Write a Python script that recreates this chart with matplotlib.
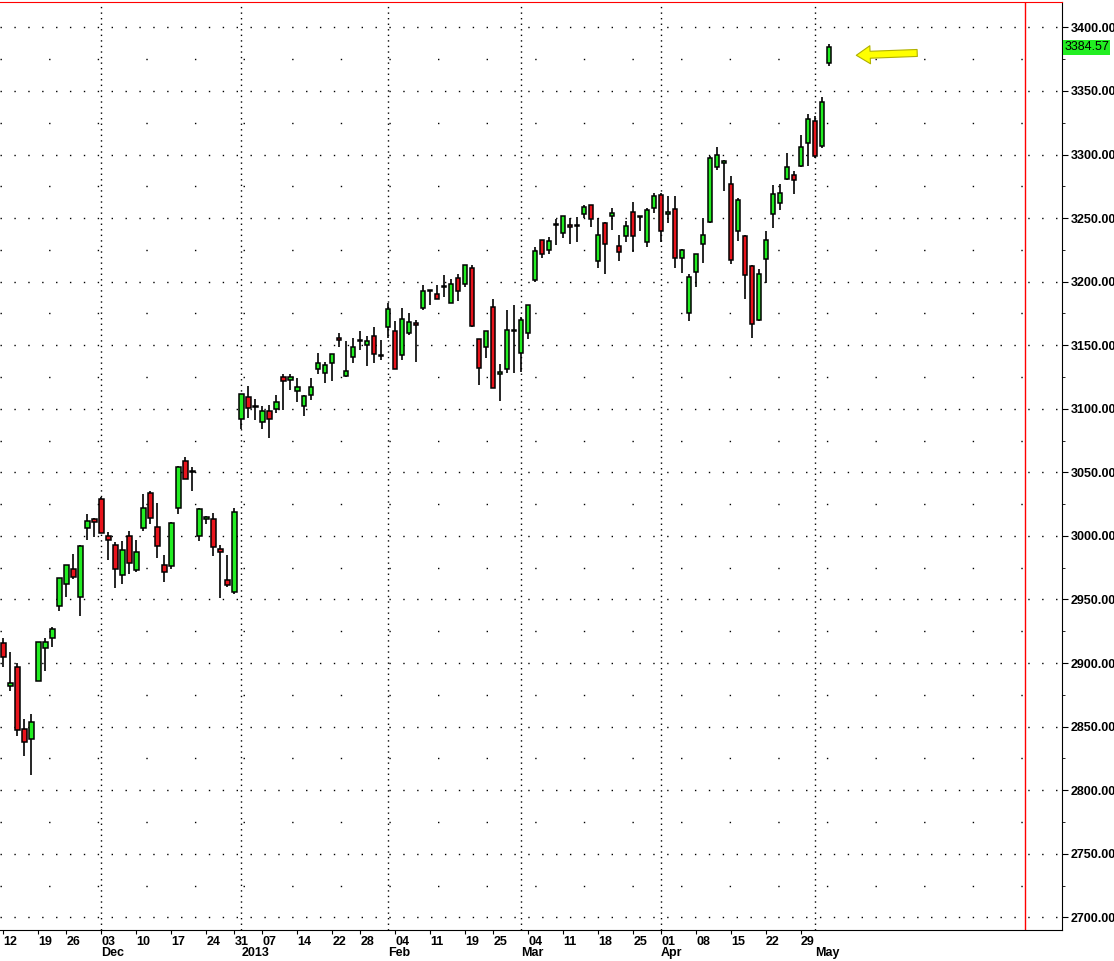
import matplotlib
matplotlib.use("Agg")
import matplotlib.pyplot as plt
from matplotlib.ticker import MultipleLocator

plt.rcParams['font.family'] = ['Liberation Sans', 'DejaVu Sans']

opens = [2916,2882,2897,2848,2840,2886,2912,2920,2945,2962,2974,2952,3006,3013,3029,3000,2993,2969,3000,2973,
         3006,3034,3007,2977,2976,3022,3059,3050.5,3000,3013.7,3013,2990,2965,2956,3092,3109,3101.6,3090,3098,3100,
         3125,3123,3114,3102,3111,3131,3128,3136,3156,3126,3141,3153,3150,3157,3141.6,3164,3161,3142,3160,3167.5,
         3179,3192.6,3190,3195.7,3183,3203,3198,3211,3155,3149,3180,3127,3131,3161.2,3144,3160,3201,3233,3225,3244.6,
         3238,3244.4,3243.8,3253,3260,3216,3246,3252,3228,3236,3255,3251,3231,3258,3268,3253,3257,3219,3175,3208,
         3230,3247,3290,3293,3277,3240,3236,3212,3170,3218,3253,3262,3281,3284,3291,3309,3326,3307,3372]
highs = [2920,2909,2900,2856,2860,2916.4,2920,2928,2967,2977,2986,2993,3017,3014,3031,3003,2995,2996,3004,2997,
         3033,3035,3026,2985,3011,3055,3062,3054,3022,3016,3018,2993,2985,3022,3112,3118,3108,3102,3103,3111,
         3127,3127,3124,3111,3124,3144,3137,3143,3160,3153,3156,3161,3157,3164,3154,3183,3169,3179,3175,3170,
         3197,3193.4,3197,3205,3202,3206,3213,3213,3155,3161,3186,3135,3178,3182,3172,3182,3227,3233,3235,3249,
         3252,3250,3251,3260,3260,3250,3247,3258,3237,3248,3263,3252,3258,3270,3270,3267,3267,3226,3206,3222,
         3250,3299,3306,3296,3283,3266,3237,3213,3210,3240,3276,3277,3301,3287,3315,3332,3330,3345,3387]
lows = [2897,2878,2843,2827,2812,2886,2894,2913,2941,2952,2966,2937,2997,2999,3002,2981,2959,2962,2970,2972,
        3004,3009,2983,2964,2974,3017,3045,3035,2996,3009,2984,2951,2960,2954,3084,3093,3091,3084,3077,3097,
        3099,3115,3105,3094,3107,3127,3120,3122,3149,3125,3136,3146,3134,3136,3138,3156,3131,3138,3158,3137,
        3178,3182,3186,3188,3183,3185,3196,3164,3119,3140,3117,3106,3128,3128,3129,3155,3200,3219,3222,3229,
        3234,3230,3231,3250,3243,3211,3206,3241,3216,3231,3223,3240,3227,3254,3231,3246,3211,3207,3169,3196,
        3215,3246,3288,3271,3214,3232,3186,3156,3169,3199,3242,3256,3280,3269,3290,3291,3297,3305,3370]
closes = [2905,2884,2847,2838,2854,2916.4,2916.4,2927,2967,2977,2968,2992,3012,3011,3002,2997,2974,2989,2979,2987,
          3022,3014,2992,2972,3010.5,3054.5,3045,3050.5,3021,3013.7,2991,2987,2961,3019,3112,3101,3101.6,3098,3092,3105.5,
          3122,3125,3117,3110,3117,3136,3134.5,3143,3154,3130,3149,3154,3153,3143,3141.6,3178.5,3131,3171,3168,3166,
          3193,3192.6,3186,3196.5,3198,3193,3213,3165,3132,3161,3116.5,3129,3162,3161.2,3170,3182,3224,3222,3232,3244.6,
          3252,3243,3243.8,3258.5,3249,3237,3230,3254,3223,3244,3236,3252,3256,3267,3240,3255,3219,3225,3203.5,3222,
          3237,3297,3300,3295,3217,3264,3205,3167,3206,3233,3269,3270,3290,3280,3306,3328,3299,3341,3384.57]

tick_idx = [0,5,9,14,19,24,29,33,37,42,47,51,56,61,66,70,75,80,85,90,94,99,104,109,114]
tick_lbl = ["12","19","26","03","10","17","24","31","07","14","22","28","04","11","19","25",
            "04","11","18","25","01","08","15","22","29"]
month_idx = [14,34,55,74,94,116]
month_lbl = ["Dec","2013","Feb","Mar","Apr","May"]

W, H = 1114, 961
fig = plt.figure(figsize=(W/100, H/100), dpi=100)
ax = fig.add_axes([0, 31/H, 1062/W, 1 - 33/H])
ax.set_xlim(-0.5, 151.3)
ax.set_ylim(2690, 3420)

for i, (o, hh, ll, cc) in enumerate(zip(opens, highs, lows, closes)):
    col = "#22ee22" if cc >= o else "#e8141c"
    ax.vlines(i, ll, hh, color="black", lw=1.2, zorder=2)
    bot, top = min(o, cc), max(o, cc)
    ax.bar(i, max(top - bot, 0.8), bottom=bot, width=0.62, color=col,
           edgecolor="black", linewidth=1.1, zorder=3)

ax.yaxis.tick_right()
ax.yaxis.set_major_locator(MultipleLocator(50))
ax.yaxis.set_minor_locator(MultipleLocator(25))
ax.yaxis.set_major_formatter(plt.FuncFormatter(lambda v, p: f"{v:.2f}"))
ax.tick_params(axis="y", which="major", length=4, labelsize=9, pad=2)
ax.tick_params(axis="y", which="minor", length=2)
for t in ax.get_yticklabels():
    t.set_fontweight("bold")
ax.grid(axis="y", which="major", color="black", linestyle=(0, (1, 9)), lw=1)
ax.grid(axis="y", which="minor", color="black", linestyle=(0, (1, 34)), lw=1)
for m in month_idx:
    ax.axvline(m, color="black", linestyle=(0, (1, 3)), lw=1, zorder=1)
ax.axvline(146, color="red", lw=1)

ax.set_xticks(tick_idx)
ax.set_xticklabels(tick_lbl, fontsize=9, fontweight="bold", ha="left")
ax.tick_params(axis="x", length=3, pad=1)
for m, lab in zip(month_idx, month_lbl):
    ax.annotate(lab, xy=(m, 0), xycoords=ax.get_xaxis_transform(),
                xytext=(0, -17), textcoords="offset pixels", fontsize=9,
                fontweight="bold", ha="left", va="top")

ax.spines["top"].set_color("red")
ax.spines["left"].set_visible(False)

ax.text(1.002, closes[-1], f"{closes[-1]:.2f}", transform=ax.get_yaxis_transform(),
        fontsize=9, color="black", va="center", ha="left",
        bbox=dict(boxstyle="square,pad=0.12", fc="#22ee22", ec="none"))

ax.annotate("", xy=(121.5, 3378), xytext=(131, 3380),
            arrowprops=dict(arrowstyle="simple,head_width=1.3,head_length=1.0,tail_width=0.5",
                            fc="#ffff00", ec="#b0b000", lw=0.8))

fig.savefig("out.png", dpi=100)
